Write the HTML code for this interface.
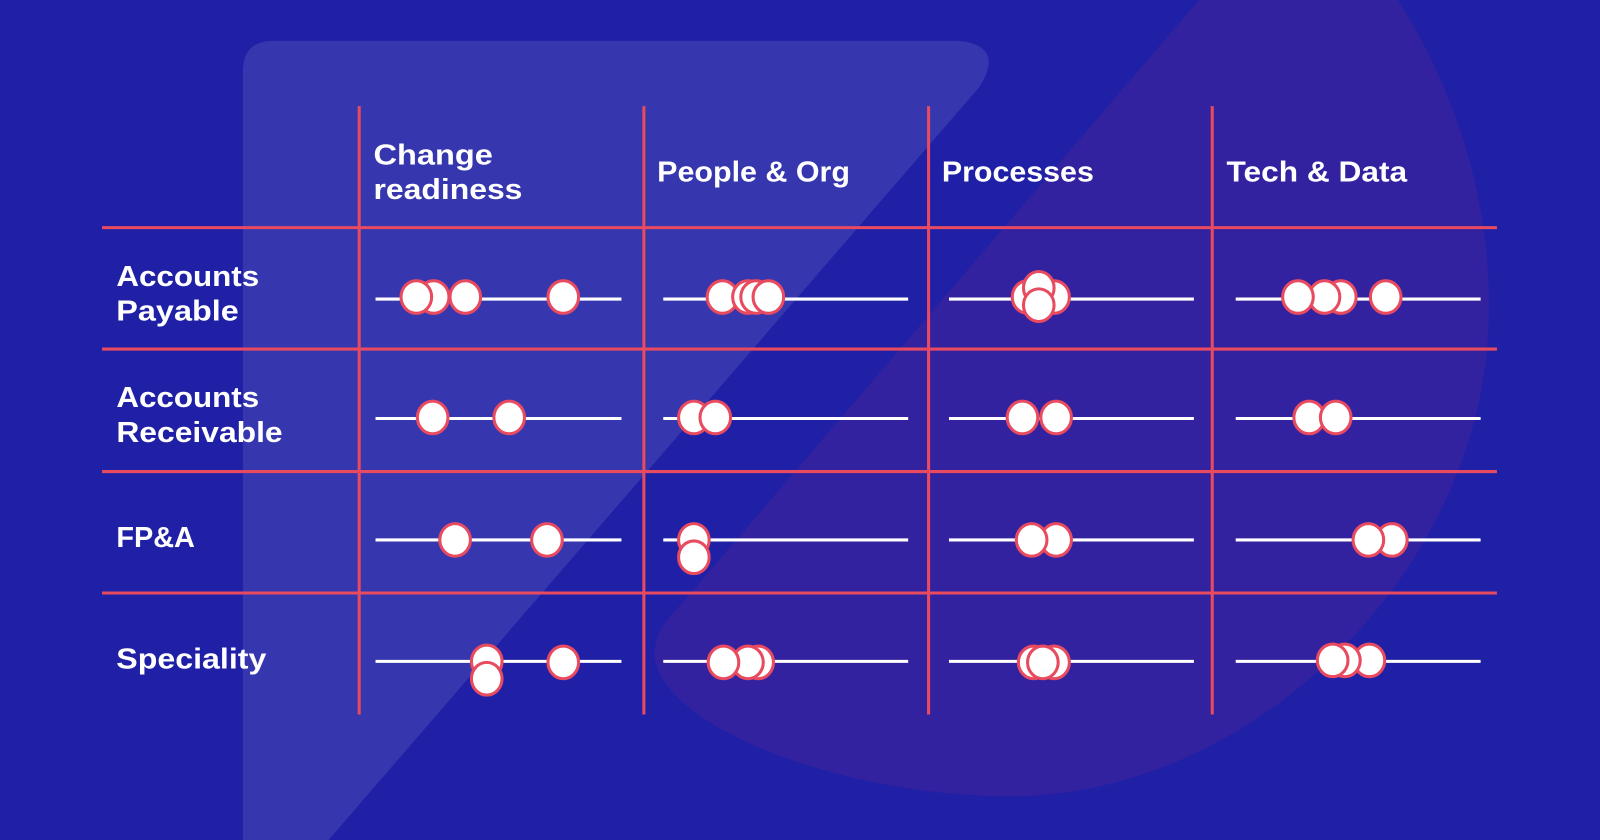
<!DOCTYPE html>
<html><head><meta charset="utf-8"><style>
html,body{margin:0;padding:0;background:#2020A6;}
svg{display:block;}
text{font-family:"Liberation Sans",sans-serif;font-weight:bold;fill:#fff;font-size:28px;}
</style></head><body>
<svg width="1600" height="840" viewBox="0 0 1568 823" preserveAspectRatio="none" xmlns="http://www.w3.org/2000/svg">
<rect width="1568" height="823" fill="#2020A6"/>
<path d="M1175 0 L1370 0 C1440 110 1465 230 1458 330 C1445 560 1230 780 990 780 C820 780 650 710 642 645 C640 625 650 610 665 595 Z" fill="#33229F"/>
<path d="M268 40 L940 40 Q985 45 960 85 L322 823 L238 823 L238 70 Q238 40 268 40 Z" fill="#3636AE"/>
<g stroke="#E84A5F" stroke-width="3">
<line x1="352" y1="104" x2="352" y2="700"/><line x1="631" y1="104" x2="631" y2="700"/>
<line x1="910" y1="104" x2="910" y2="700"/><line x1="1188" y1="104" x2="1188" y2="700"/>
<line x1="100" y1="223" x2="1467" y2="223"/><line x1="100" y1="342" x2="1467" y2="342"/>
<line x1="100" y1="462" x2="1467" y2="462"/><line x1="100" y1="581" x2="1467" y2="581"/>
</g>
<g lengthAdjust="spacingAndGlyphs">
<text x="366" y="161" textLength="117" lengthAdjust="spacingAndGlyphs">Change</text><text x="366" y="195" textLength="146" lengthAdjust="spacingAndGlyphs">readiness</text>
<text x="644" y="178" textLength="189" lengthAdjust="spacingAndGlyphs">People &amp; Org</text>
<text x="923" y="178" textLength="149" lengthAdjust="spacingAndGlyphs">Processes</text>
<text x="1202" y="178" textLength="177" lengthAdjust="spacingAndGlyphs">Tech &amp; Data</text>
<text x="114" y="280" textLength="140" lengthAdjust="spacingAndGlyphs">Accounts</text><text x="114" y="314" textLength="120" lengthAdjust="spacingAndGlyphs">Payable</text>
<text x="114" y="399" textLength="140" lengthAdjust="spacingAndGlyphs">Accounts</text><text x="114" y="433" textLength="163" lengthAdjust="spacingAndGlyphs">Receivable</text>
<text x="114" y="536" textLength="77" lengthAdjust="spacingAndGlyphs">FP&amp;A</text>
<text x="114" y="655" textLength="147" lengthAdjust="spacingAndGlyphs">Speciality</text>
</g>
<g stroke="#fff" stroke-width="3">
<line x1="368" y1="293" x2="609" y2="293"/><line x1="650" y1="293" x2="890" y2="293"/><line x1="930" y1="293" x2="1170" y2="293"/><line x1="1211" y1="293" x2="1451" y2="293"/>
<line x1="368" y1="410" x2="609" y2="410"/><line x1="650" y1="410" x2="890" y2="410"/><line x1="930" y1="410" x2="1170" y2="410"/><line x1="1211" y1="410" x2="1451" y2="410"/>
<line x1="368" y1="529" x2="609" y2="529"/><line x1="650" y1="529" x2="890" y2="529"/><line x1="930" y1="529" x2="1170" y2="529"/><line x1="1211" y1="529" x2="1451" y2="529"/>
<line x1="368" y1="648" x2="609" y2="648"/><line x1="650" y1="648" x2="890" y2="648"/><line x1="930" y1="648" x2="1170" y2="648"/><line x1="1211" y1="648" x2="1451" y2="648"/>
</g>
<g fill="#fff" stroke="#E84A5F" stroke-width="3">
<ellipse cx="552" cy="291" rx="15" ry="16"/><ellipse cx="456" cy="291" rx="15" ry="16"/><ellipse cx="425" cy="291" rx="15" ry="16"/><ellipse cx="408" cy="291" rx="15" ry="16"/>
<ellipse cx="708" cy="291" rx="15" ry="16"/><ellipse cx="733" cy="291" rx="15" ry="16"/><ellipse cx="741" cy="291" rx="15" ry="16"/><ellipse cx="753" cy="291" rx="15" ry="16"/>
<ellipse cx="1007" cy="291" rx="15" ry="16"/><ellipse cx="1033" cy="291" rx="15" ry="16"/><ellipse cx="1018" cy="282" rx="15" ry="16"/><ellipse cx="1018" cy="299" rx="15" ry="16"/>
<ellipse cx="1358" cy="291" rx="15" ry="16"/><ellipse cx="1314" cy="291" rx="15" ry="16"/><ellipse cx="1298" cy="291" rx="15" ry="16"/><ellipse cx="1272" cy="291" rx="15" ry="16"/>
<ellipse cx="424" cy="409" rx="15" ry="16"/><ellipse cx="499" cy="409" rx="15" ry="16"/>
<ellipse cx="680" cy="409" rx="15" ry="16"/><ellipse cx="701" cy="409" rx="15" ry="16"/>
<ellipse cx="1002" cy="409" rx="15" ry="16"/><ellipse cx="1035" cy="409" rx="15" ry="16"/>
<ellipse cx="1283" cy="409" rx="15" ry="16"/><ellipse cx="1309" cy="409" rx="15" ry="16"/>
<ellipse cx="446" cy="529" rx="15" ry="16"/><ellipse cx="536" cy="529" rx="15" ry="16"/>
<ellipse cx="680" cy="529" rx="15" ry="16"/><ellipse cx="680" cy="546" rx="15" ry="16"/>
<ellipse cx="1035" cy="529" rx="15" ry="16"/><ellipse cx="1011" cy="529" rx="15" ry="16"/>
<ellipse cx="1364" cy="529" rx="15" ry="16"/><ellipse cx="1341" cy="529" rx="15" ry="16"/>
<ellipse cx="477" cy="648" rx="15" ry="16"/><ellipse cx="477" cy="665" rx="15" ry="16"/><ellipse cx="552" cy="649" rx="15" ry="16"/>
<ellipse cx="743" cy="649" rx="15" ry="16"/><ellipse cx="733" cy="649" rx="15" ry="16"/><ellipse cx="709" cy="649" rx="15" ry="16"/>
<ellipse cx="1033" cy="649" rx="15" ry="16"/><ellipse cx="1013" cy="649" rx="15" ry="16"/><ellipse cx="1022" cy="649" rx="15" ry="16"/>
<ellipse cx="1342" cy="647" rx="15" ry="16"/><ellipse cx="1318" cy="647" rx="15" ry="16"/><ellipse cx="1306" cy="647" rx="15" ry="16"/>
</g>
</svg>
</body></html>
